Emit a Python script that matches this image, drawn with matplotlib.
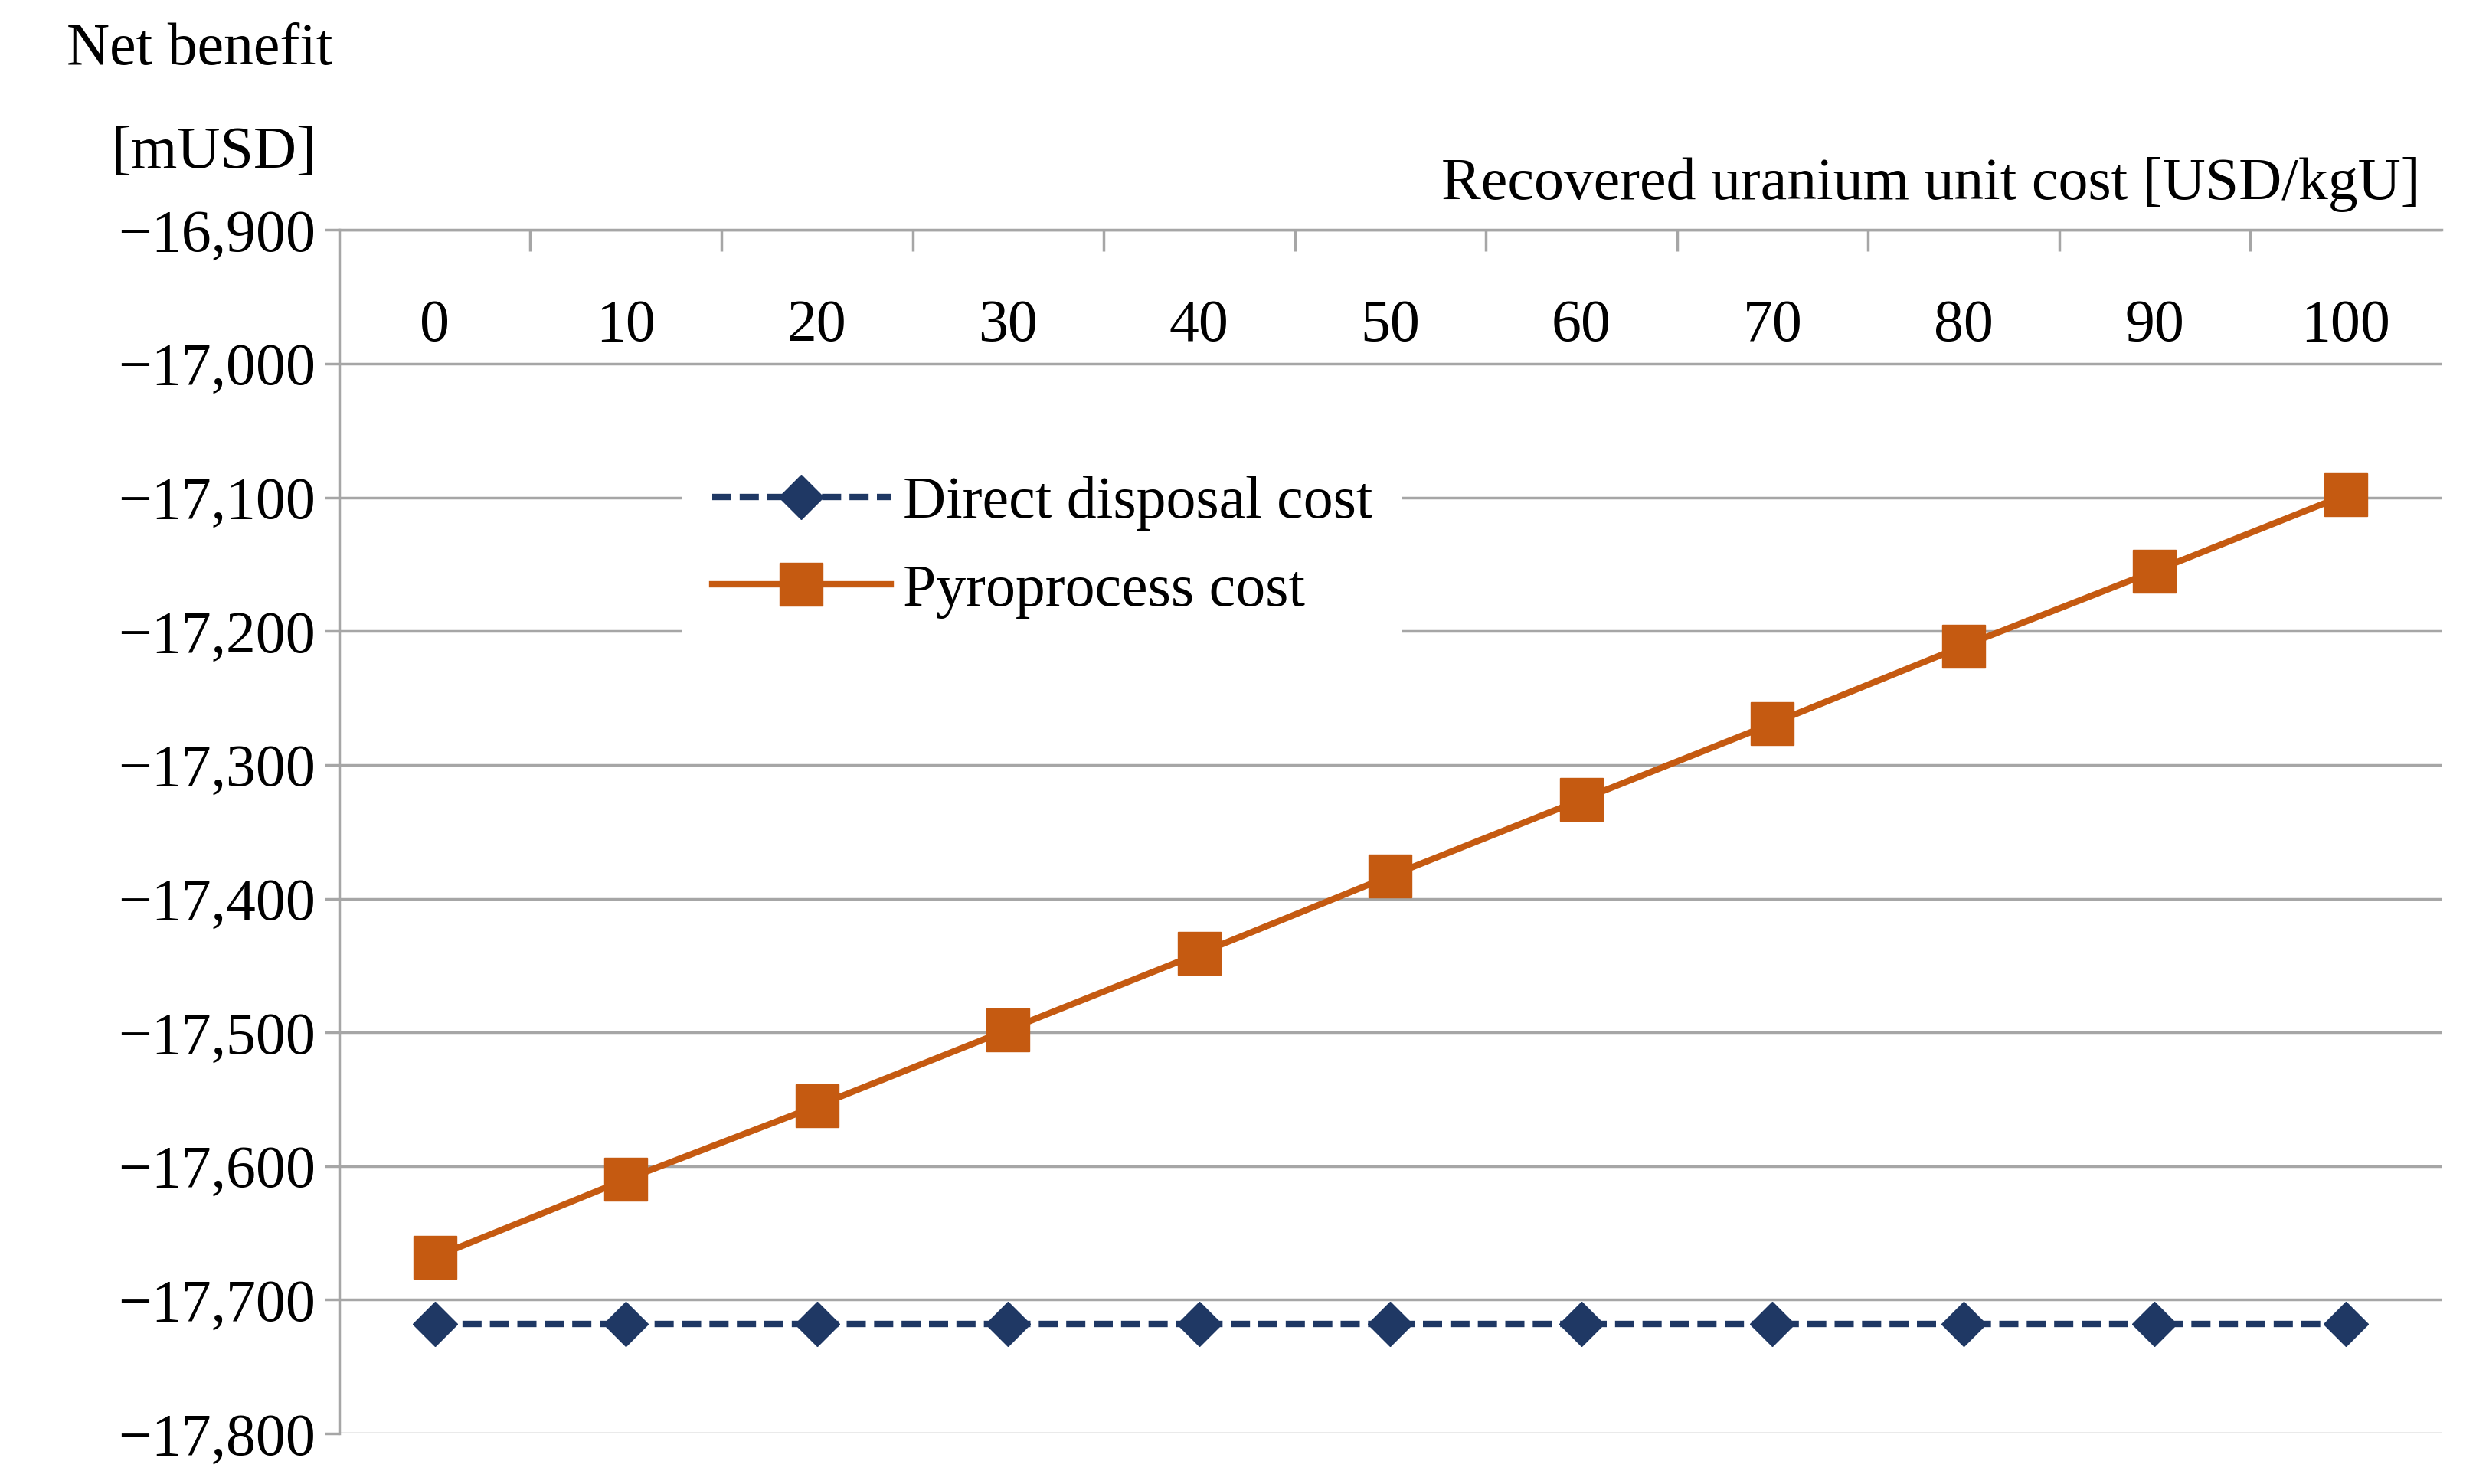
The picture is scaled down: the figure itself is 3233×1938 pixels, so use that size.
import matplotlib
matplotlib.use("Agg")
import matplotlib.pyplot as plt
import matplotlib.transforms as mtrans

x_labels = ["0","10","20","30","40","50","60","70","80","90","100"]
direct = [-17718]*11
pyro = [-17668,-17610,-17555,-17498,-17441,-17383,-17326,-17269,-17211,-17155,-17098]
yticks = list(range(-17800,-16899,100))

plt.rcParams['font.family'] = ['Liberation Serif','DejaVu Serif']
FS = 56
fig = plt.figure(figsize=(32.33,19.38), dpi=100)
ax = fig.add_axes([0.137,0.034,0.849,0.811])
pos = list(range(len(x_labels)))
ax.plot(pos, direct, color='#1F3864', ls=(0,(3,1.3)), lw=6, marker='D', ms=30, label='Direct disposal cost', zorder=3)
ax.plot(pos, pyro, color='#C55A11', lw=6, marker='s', ms=40, label='Pyroprocess cost', zorder=3)
ax.set_xlim(-0.5,10.5)
ax.set_ylim(-17800,-16900)
ax.set_yticks(yticks)
ax.set_yticklabels([f"\u2212{abs(v):,}" for v in yticks], fontsize=FS)
ax.yaxis.grid(True, color='#A6A6A6', lw=2.5)
ax.set_axisbelow(True)
for s in ['right','bottom']:
    ax.spines[s].set_visible(False)
for s in ['left','top']:
    ax.spines[s].set_color('#A6A6A6'); ax.spines[s].set_linewidth(2.5)
ax.tick_params(axis='y', length=14, width=2.5, color='#A6A6A6', pad=8)
ax.set_xticks([p+0.5 for p in pos[:-1]])
ax.set_xticklabels([])
ax.tick_params(axis='x', bottom=False, top=True, direction='in', length=20, width=2.5, color='#A6A6A6')
tr = mtrans.blended_transform_factory(ax.transData, ax.transAxes)
for p,l in zip(pos,x_labels):
    ax.text(p, 0.92, l, transform=tr, ha='center', va='center', fontsize=FS)
ax.text(0.99, 1.015, "Recovered uranium unit cost [USD/kgU]", transform=ax.transAxes, ha='right', va='bottom', fontsize=FS)
fig.text(0.027, 0.985, "Net benefit", ha='left', va='top', fontsize=FS)
fig.text(0.045, 0.915, "[mUSD]", ha='left', va='top', fontsize=FS)
leg = ax.legend(loc='upper left', bbox_to_anchor=(0.149,0.845), fontsize=FS, frameon=True, facecolor='white', edgecolor='none', framealpha=1, handlelength=3.0, borderpad=0.5, labelspacing=0.55, handletextpad=0.2, fancybox=False)
leg.set_zorder(5)
fig.savefig("out.png", dpi=100)
